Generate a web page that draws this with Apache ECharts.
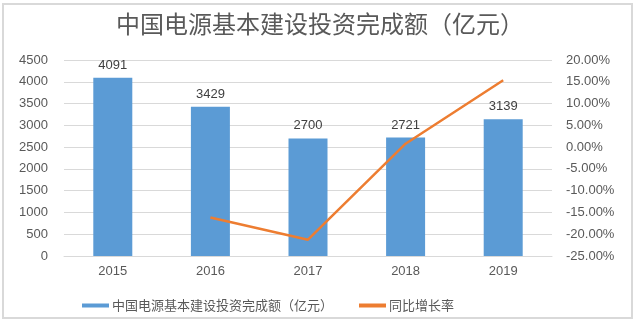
<!DOCTYPE html>
<html><head><meta charset="utf-8">
<script src="https://cdn.jsdelivr.net/npm/echarts@6/dist/echarts.min.js"></script>
<style>html,body{margin:0;padding:0;background:#fff}#c{width:640px;height:325px}</style>
</head><body><div id="c"></div>
<script>
var categories = ['2015','2016','2017','2018','2019'];
var investment = [4091, 3429, 2700, 2721, 3139];
var growth = [null, -16.18, -21.26, 0.78, 15.36];
var leftTicks = [0, 4500, 500];
var rightTicks = [-25, 20, 5];

var chart = echarts.init(document.getElementById('c'), null, {renderer:'canvas'});
var font = '"Liberation Sans", Arial, sans-serif';
chart.setOption({
  animation: false,
  backgroundColor: '#fff',
  textStyle: {fontFamily: font},
  graphic: [{type:'rect', shape:{x:3, y:4, width:629, height:314}, style:{fill:'none', stroke:'#d9d9d9', lineWidth:2}, z:-1}],
  title: {text:'中国电源基本建设投资完成额（亿元）', left:'center', top:7,
    textStyle:{fontFamily:'"Noto Sans CJK SC", sans-serif', fontSize:24, fontWeight:'normal', color:'#595959'}},
  legend: {bottom:8, left:77, itemGap:26, itemWidth:27, itemHeight:4,
    textStyle:{fontFamily:'"Noto Sans CJK SC", sans-serif', fontSize:13, color:'#595959', padding:[0,0,0,-2]},
    data:[{name:'中国电源基本建设投资完成额（亿元）', icon:'rect'}, {name:'同比增长率', icon:'rect'}]},
  grid: {left:64, right:88, top:60, bottom:69},
  xAxis: {type:'category', data:categories,
    axisLine:{lineStyle:{color:'#d9d9d9'}}, axisTick:{show:false},
    axisLabel:{color:'#595959', fontSize:13, margin:9}},
  yAxis: [
    {type:'value', min:leftTicks[0], max:leftTicks[1], interval:leftTicks[2],
      axisLabel:{color:'#595959', fontSize:13, margin:16, formatter:function(v){return String(v);}},
      splitLine:{lineStyle:{color:'#d9d9d9'}}, axisLine:{show:false}, axisTick:{show:false}},
    {type:'value', min:rightTicks[0], max:rightTicks[1], interval:rightTicks[2],
      axisLabel:{color:'#595959', fontSize:13, margin:14, formatter:function(v){return (v<0?'-':'')+Math.abs(v).toFixed(2)+'%';}},
      splitLine:{show:false}, axisLine:{show:false}, axisTick:{show:false}}
  ],
  series: [
    {name:'中国电源基本建设投资完成额（亿元）', type:'bar', data:investment, barWidth:39,
      itemStyle:{color:'#5b9bd5'},
      label:{show:true, position:'top', distance:6, color:'#404040', fontSize:13}},
    {name:'同比增长率', type:'line', yAxisIndex:1, data:growth, symbol:'none',
      lineStyle:{color:'#ed7d31', width:2.5}, itemStyle:{color:'#ed7d31'}}
  ]
});
</script></body></html>
